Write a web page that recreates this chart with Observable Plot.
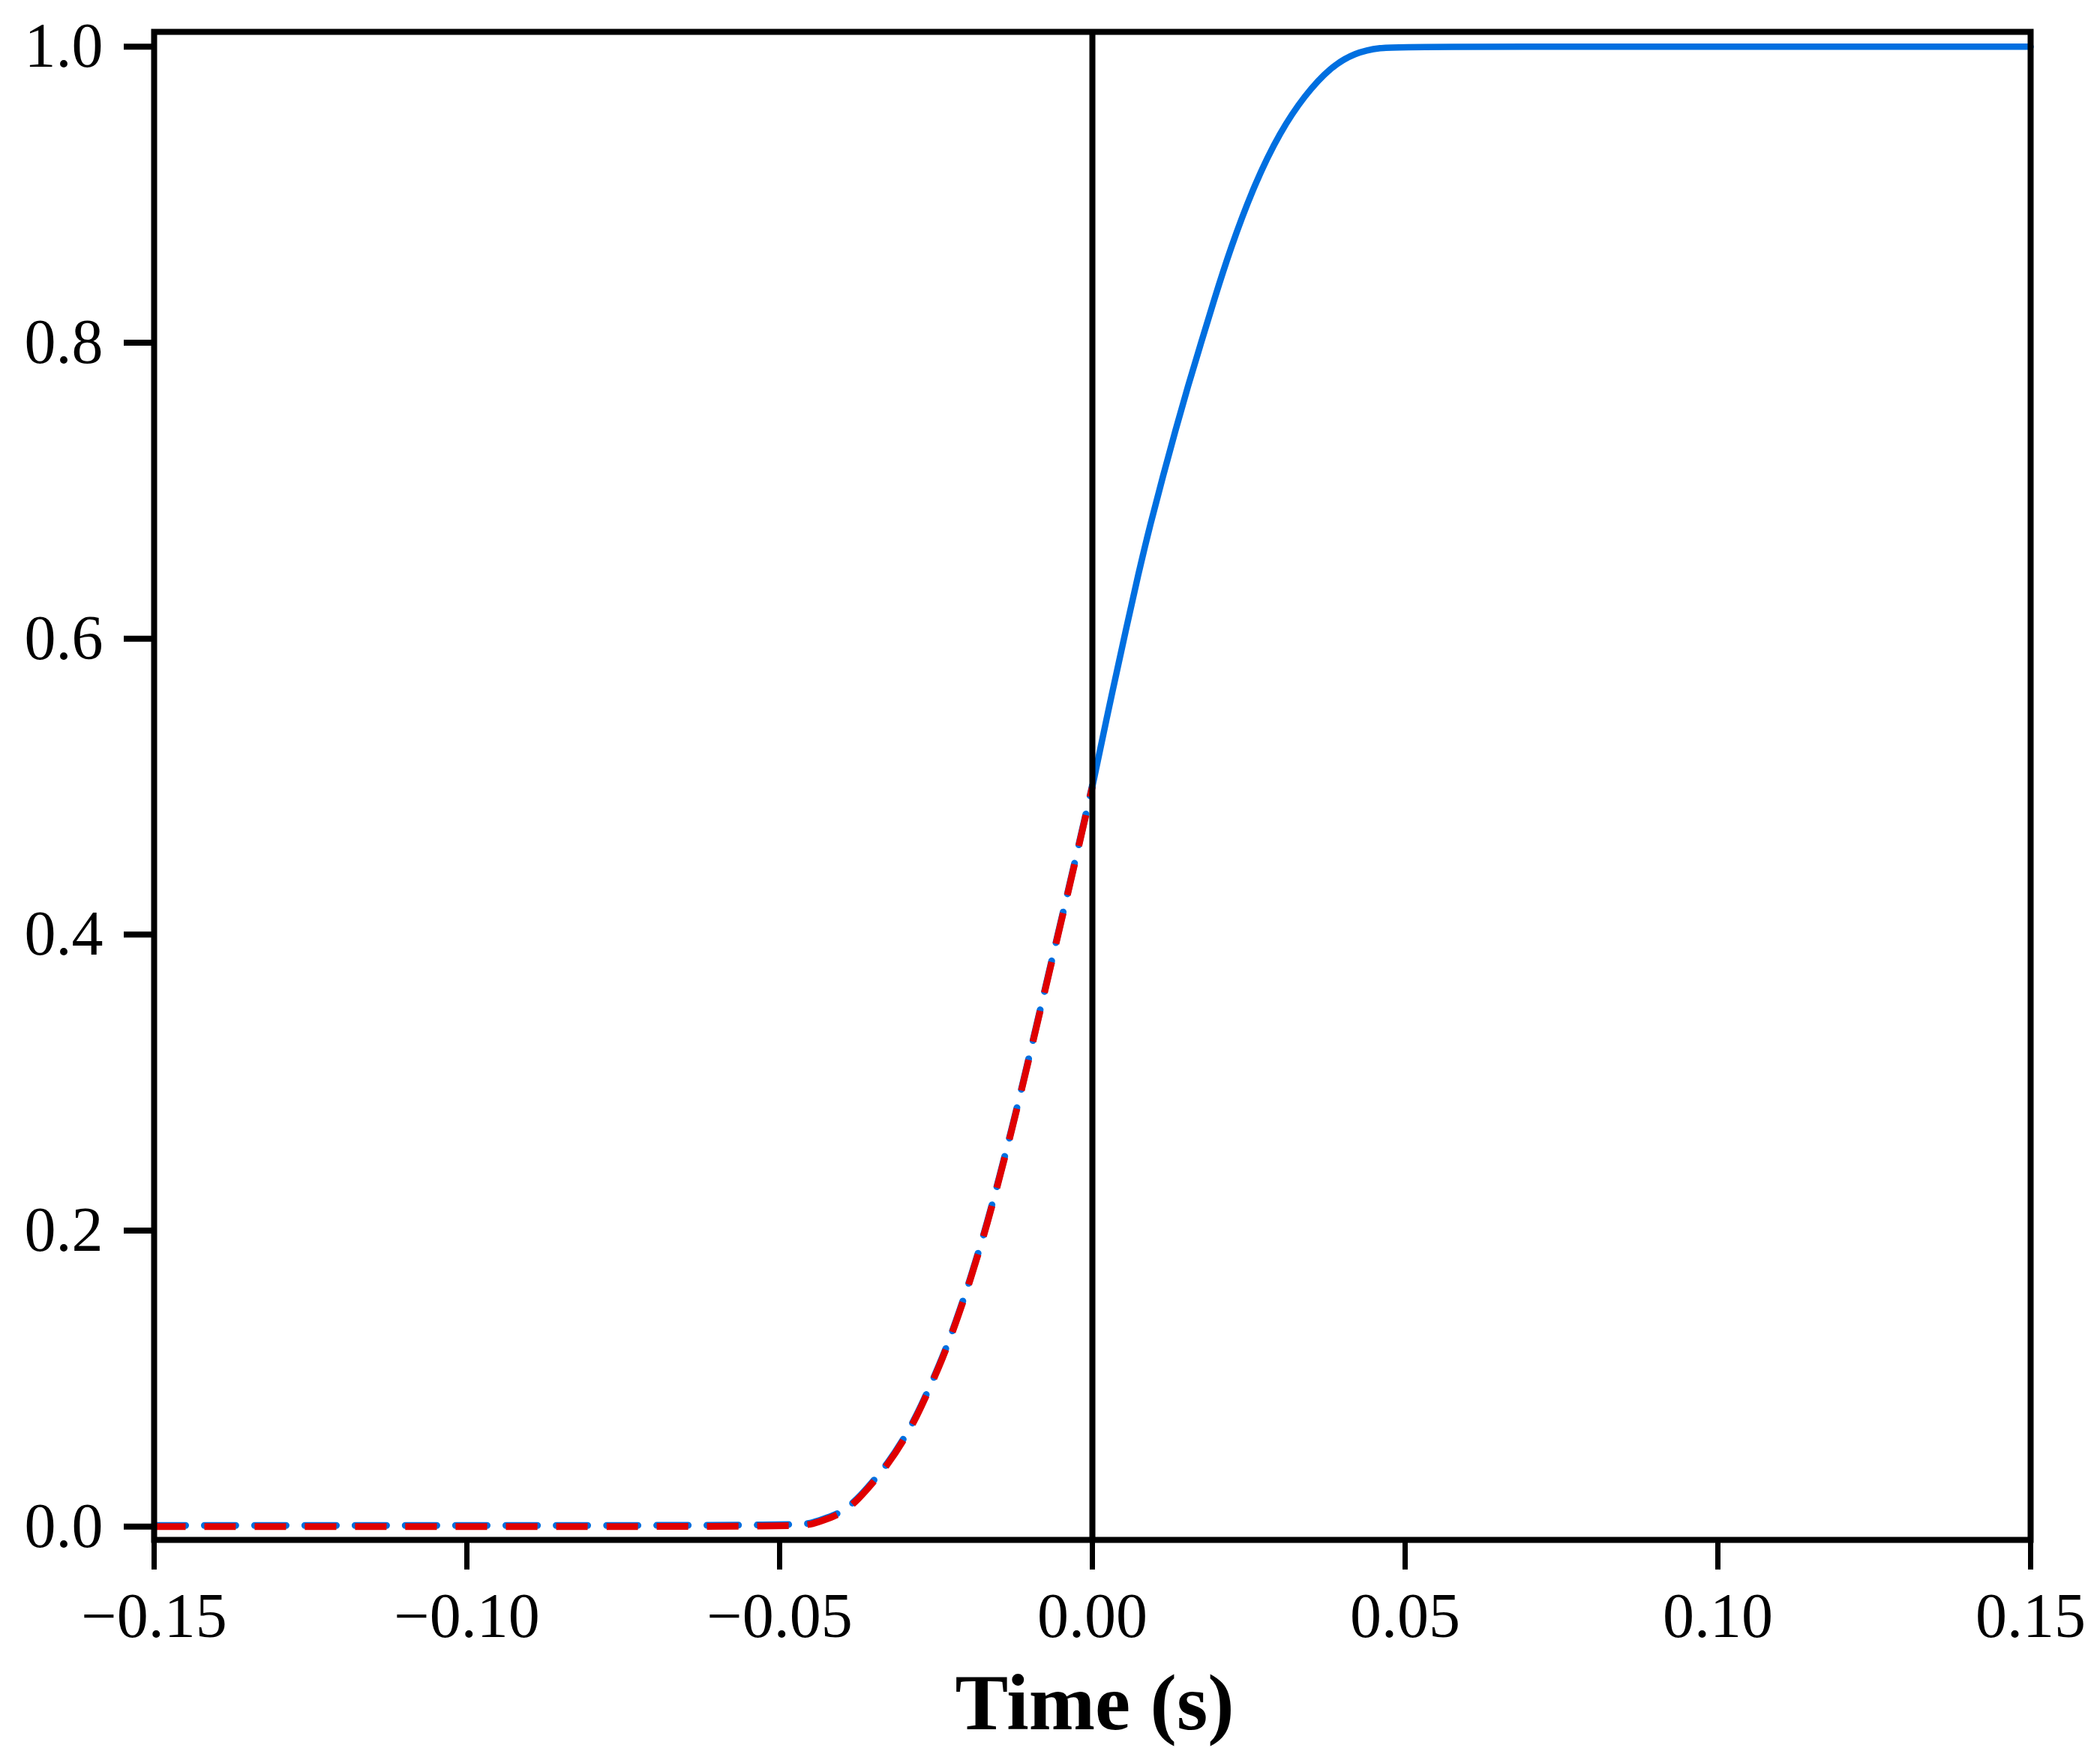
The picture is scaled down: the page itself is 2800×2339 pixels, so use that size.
<!DOCTYPE html>
<html>
<head>
<meta charset="utf-8">
<script src="https://cdn.jsdelivr.net/npm/d3@7"></script>
<script src="https://cdn.jsdelivr.net/npm/@observablehq/plot@0.6"></script>
<style>
  html, body { margin: 0; padding: 0; background: #fff; }
  #chart svg { display: block; }
</style>
</head>
<body>
<div id="chart"></div>
<script>
// Positive-time branch (solid blue)
const tPos = [0, 0.0033, 0.0053, 0.0073, 0.0093, 0.0113, 0.0133, 0.0153, 0.0173, 0.0193, 0.0220, 0.0260, 0.0300, 0.0340, 0.0380, 0.0420, 0.0460, 0.0500, 0.1000, 0.1500];
const vPos = [0.5, 0.5665, 0.6047, 0.643, 0.678, 0.710, 0.741, 0.771, 0.7988, 0.8267, 0.863, 0.908, 0.9425, 0.9675, 0.986, 0.996, 0.9995, 1.0, 1.0, 1.0];

// Negative-time branch (dashed red over dashed blue)
const tNeg = [-0.15, -0.10, -0.0470, -0.0447, -0.0425, -0.0399, -0.0375, -0.0351, -0.0327, -0.0303, -0.0281, -0.0259, -0.0240, -0.0221, -0.0195, -0.0167, -0.0147, -0.0127, -0.0107, -0.0087, -0.0067, -0.0047, -0.0027, 0];
const vNeg = [0, 0, 0, 0.0017, 0.005, 0.0093, 0.018, 0.0295, 0.042, 0.0574, 0.074, 0.0946, 0.113, 0.1343, 0.1664, 0.206, 0.238, 0.271, 0.306, 0.342, 0.378, 0.414, 0.450, 0.5];

const xTicks = [-0.15, -0.10, -0.05, 0.00, 0.05, 0.10, 0.15];
const yTicks = [0.0, 0.2, 0.4, 0.6, 0.8, 1.0];
const xTitle = "Time (s)";

const pos = tPos.map((t, i) => ({t, v: vPos[i]}));
const neg = tNeg.map((t, i) => ({t, v: vNeg[i]}));

const blue = "#006fe0";
const red = "#e00000";

const chart = Plot.plot({
  width: 2800,
  height: 2339,
  marginLeft: 205,
  marginRight: 93,
  marginTop: 42,
  marginBottom: 286,
  style: {fontFamily: "'Liberation Serif', 'Times New Roman', serif", fontSize: "84px", color: "#000", background: "#fff"},
  x: {domain: [-0.15, 0.15]},
  y: {domain: [-0.009, 1.010]},
  marks: [
    Plot.line(neg, {x: "t", y: "v", stroke: blue, strokeWidth: 9, strokeDasharray: "42,25", curve: "basis", dy: -1.5}),
    Plot.line(neg, {x: "t", y: "v", stroke: red, strokeWidth: 9, strokeDasharray: "42,25", curve: "basis", strokeLinecap: "butt"}),
    Plot.line(pos, {x: "t", y: "v", stroke: blue, strokeWidth: 8.5, curve: "basis"}),
    Plot.ruleX([0], {stroke: "#000", strokeWidth: 8}),
    Plot.frame({stroke: "#000", strokeWidth: 8}),
    Plot.axisX({ticks: xTicks, tickFormat: d3.format(".2f"), tickSize: 40, tickPadding: 30, strokeWidth: 7, fontSize: 84, label: null}),
    Plot.axisY({ticks: yTicks, tickFormat: d3.format(".1f"), tickSize: 40, tickPadding: 28, strokeWidth: 8, fontSize: 84, label: null}),
    Plot.text([xTitle], {frameAnchor: "bottom", text: d => d, dy: 252, dx: 3, lineAnchor: "bottom", fontSize: 106, fontWeight: "bold", fill: "#000"})
  ]
});
document.getElementById("chart").appendChild(chart);
</script>
</body>
</html>
